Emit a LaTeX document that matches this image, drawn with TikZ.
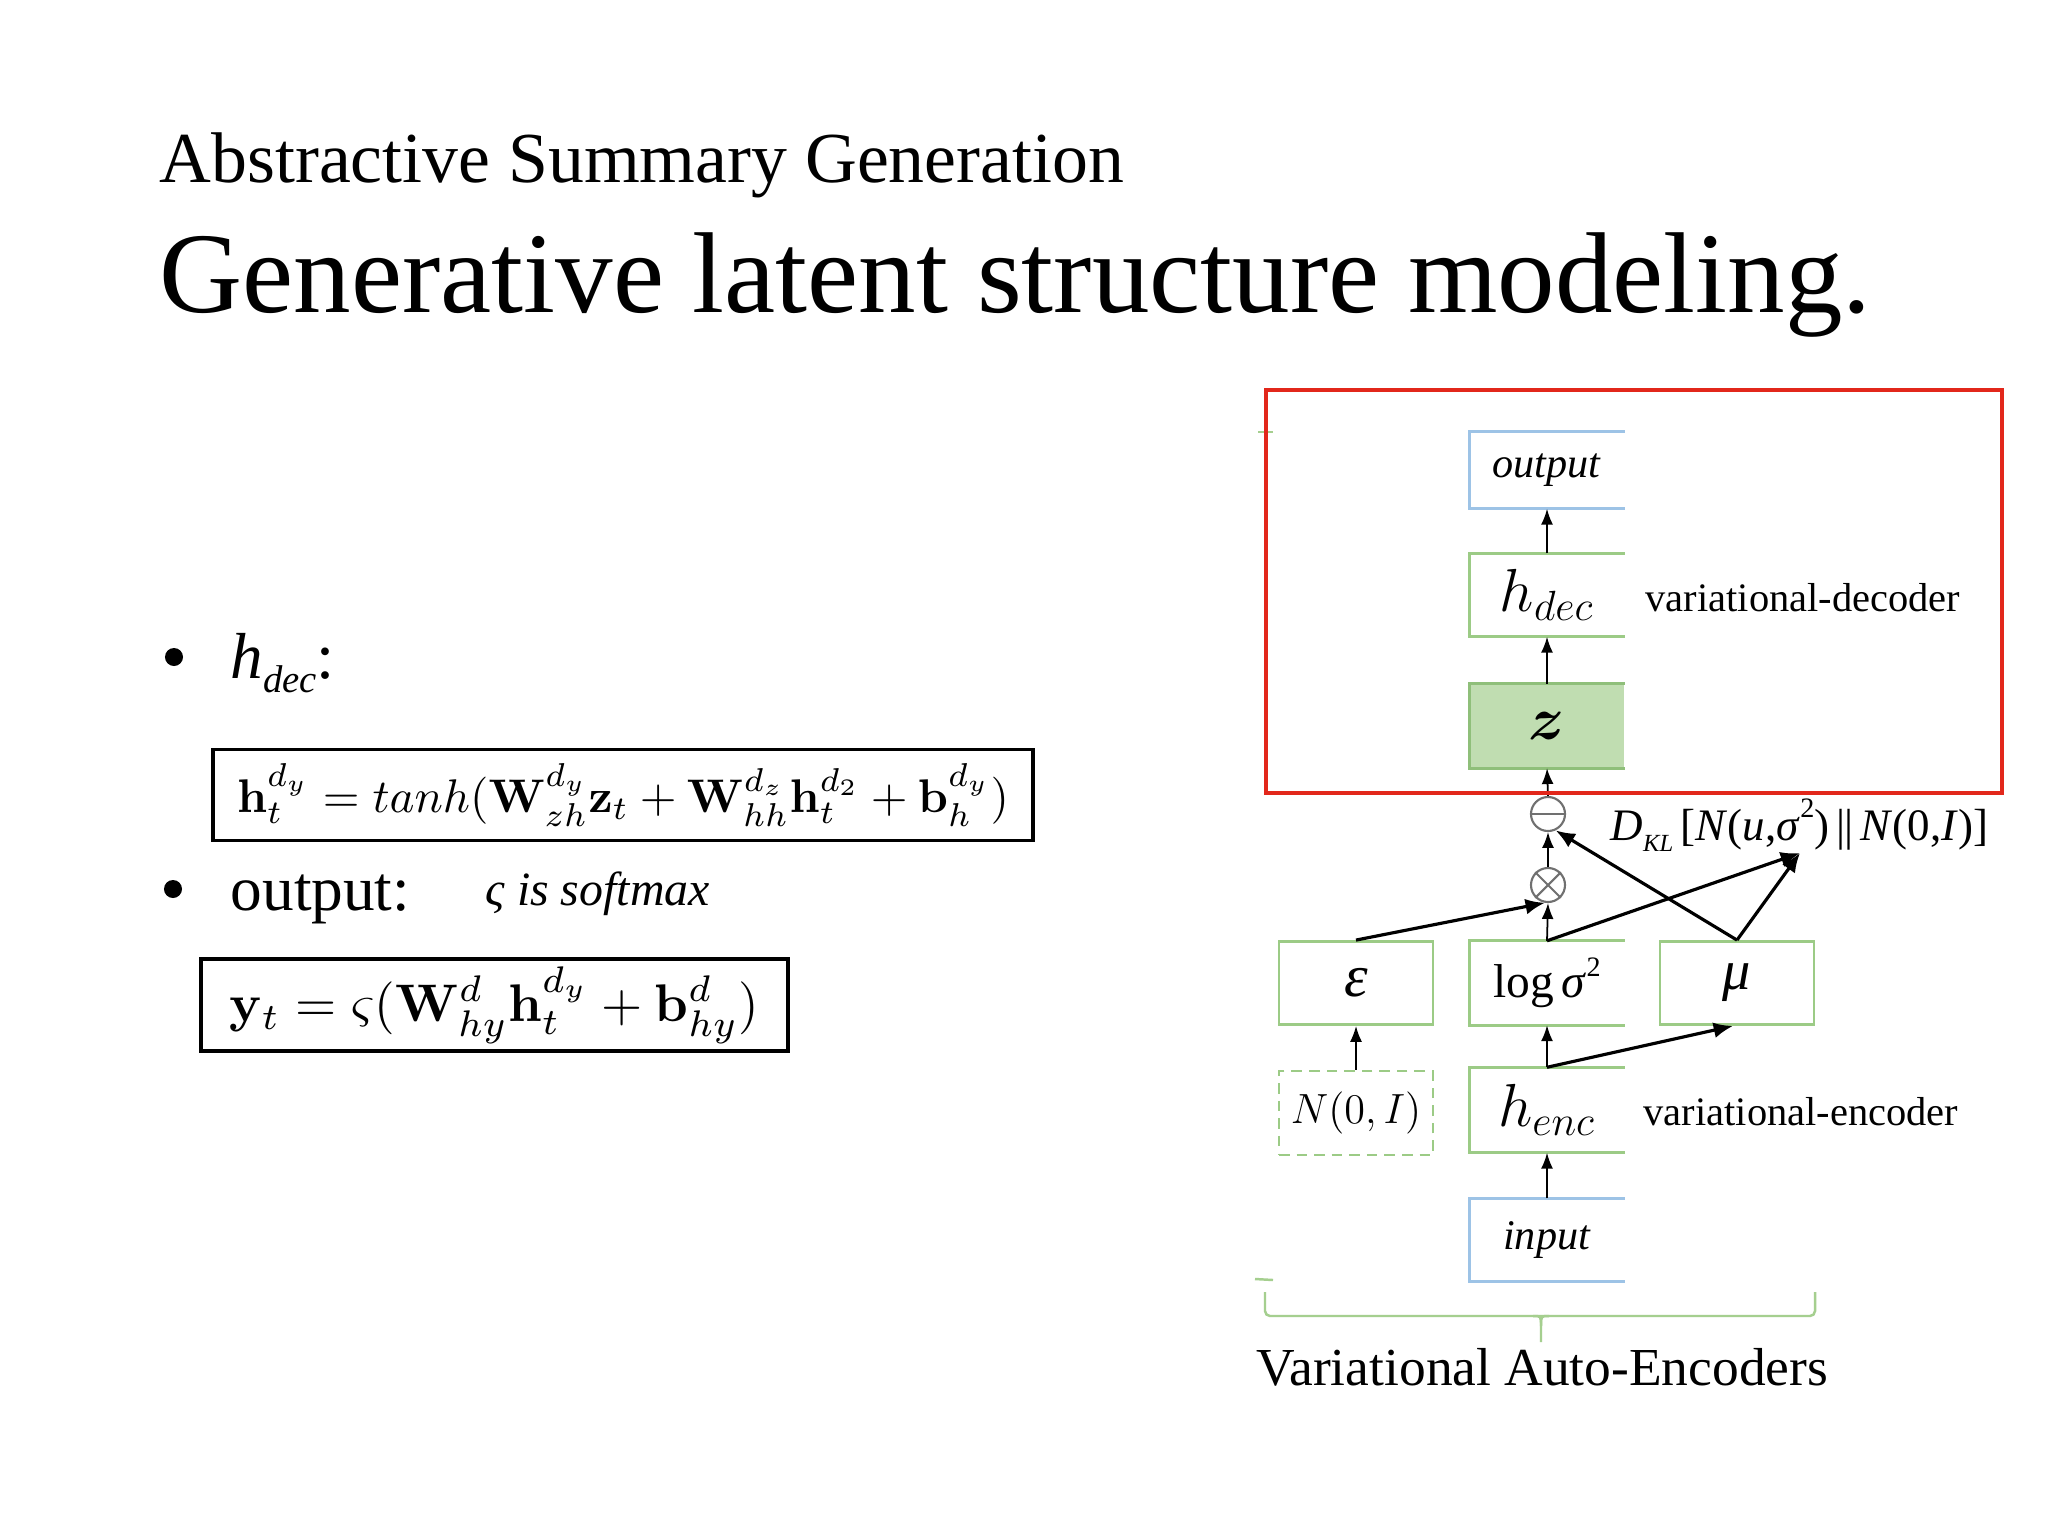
\documentclass[tikz,border=0pt]{standalone}
\usepackage[no-math]{fontspec}
\setmainfont{Liberation Serif}
\usepackage{graphicx}
\usetikzlibrary{arrows.meta}
\definecolor{vgreen}{HTML}{9CCB86}
\definecolor{zfill}{HTML}{C0DDB1}
\definecolor{zline}{HTML}{8FBF7A}
\definecolor{vblue}{HTML}{9DC3E6}
\definecolor{vred}{HTML}{E2271B}
\definecolor{opgray}{HTML}{707070}
\definecolor{bracegreen}{HTML}{A5CF8F}
\newcommand{\fs}[1]{\fontsize{#1}{#1}\selectfont}
\newcommand{\opensides}[2]{\draw[#1] (#2.north east) -- (#2.north west) -- (#2.south west) -- (#2.south east);}
\begin{document}
\begin{tikzpicture}[x=0.01cm,y=-0.01cm,
  vbox/.style={minimum width=1.54cm, minimum height=0.83cm, inner sep=0pt},
  gline/.style={draw=vgreen, line width=0.8pt},
  bline/.style={draw=vblue, line width=0.8pt},
  thinarr/.style={-{Latex[length=4.5pt,width=3.4pt]}, line width=0.5pt, black},
  thickarr/.style={-{Latex[length=5.5pt,width=4.5pt]}, line width=0.9pt, black},
  txt/.style={inner sep=0pt, anchor=base west},
  opnode/.style={circle, draw=opgray, line width=0.6pt, minimum size=0.34cm, inner sep=0pt},
  eqbox/.style={draw=black, line width=1pt, inner sep=0pt},
  bul/.style={circle, fill=black, inner sep=0pt, minimum size=0.18cm},
]
\useasboundingbox (0,0) rectangle (2048,1536);
\fill[white] (0,0) rectangle (2048,1536);

% ---- slide text ----
\node[txt] (t1) at (159,182) {\fs{20.4}Abstractive Summary Generation};
\node[txt] (t2) at (159,312) {\fs{32.7}Generative latent structure modeling.};

\node[bul] (b1) at (174,657) {};
\node[txt] (hd) at (230,678) {\fs{18.5}\textit{h}\raisebox{-0.22em}{\fs{11}\textit{dec}}:};

\node[eqbox, minimum width=8.2cm, minimum height=0.91cm] (eq1) at (623,795)
  {\resizebox{219.5pt}{!}{$\mathbf{h}_t^{d_y} = tanh(\mathbf{W}_{zh}^{d_y}\mathbf{z}_t + \mathbf{W}_{hh}^{d_z}\mathbf{h}_t^{d_2} + \mathbf{b}_h^{d_y})$}};

\node[bul] (b2) at (173,889) {};
\node[txt] (op) at (230,910) {\fs{18}output:};
\node[txt] (sm) at (485,905) {\fs{13.6}\textit{ς is softmax}};

\node[eqbox, minimum width=5.87cm, minimum height=0.92cm] (eq2) at (494.5,1005)
  {\resizebox{150.5pt}{!}{$\mathbf{y}_t = \varsigma(\mathbf{W}_{hy}^{d}\mathbf{h}_t^{d_y} + \mathbf{b}_{hy}^{d})$}};

% ---- VAE diagram ----
\node[vbox, minimum height=0.76cm] (out) at (1547,470) {\fs{12}\textit{output}};
\opensides{bline}{out}
\node[vbox, minimum height=0.82cm] (hdec) at (1547,595)
  {\fs{17}$h_{\mbox{\fs{13}$dec$}}$};
\opensides{gline}{hdec}
\node[vbox, fill=zfill, minimum height=0.83cm] (z) at (1547,726) {\fs{16}{\boldmath$z$}};
\opensides{draw=zline, line width=0.8pt}{z}

\node[opnode] (minus) at (1548,814) {};
\draw[opgray, line width=0.7pt] (minus.west) -- (minus.east);
\node[opnode] (times) at (1548,885) {};
\draw[opgray, line width=0.6pt] (times.north west) -- (times.south east);
\draw[opgray, line width=0.6pt] (times.north east) -- (times.south west);

\node[vbox, gline] (eps) at (1356,983) {\fs{17}\textit{ε}};
\node[vbox] (logv) at (1547,983) {\fs{13.5}log\,\textit{σ}\raisebox{0.45em}{\fs{8}2}};
\opensides{gline}{logv}
\node[vbox, gline] (mu) at (1737,983) {\fs{16}\textit{μ}};

\node[vbox, gline, dash pattern=on 3pt off 2pt, minimum height=0.84cm] (nrm) at (1356,1113) {\fs{13}$N(0,I)$};
\node[vbox, minimum height=0.84cm] (henc) at (1547,1110)
  {\fs{17}$h_{\mbox{\fs{13}$enc$}}$};
\opensides{gline}{henc}
\node[vbox, minimum height=0.82cm] (inp) at (1547,1240) {\fs{12}\textit{input}};
\opensides{bline}{inp}

\node[txt] (vdec) at (1645,611) {\fs{11.5}variational-decoder};
\node[txt] (venc) at (1643,1125) {\fs{11.5}variational-encoder};
\node[txt] (kl) at (1610,840) {\fs{12.8}\textit{D}\raisebox{-0.25em}{\fs{7}\textit{KL}}\,[\textit{N}(\textit{u},\textit{σ}\raisebox{0.5em}{\fs{8}2})\,\textbar\kern-0.5pt\textbar\,\textit{N}(0,\textit{I})]};
\coordinate (klpt) at (1800,853);

% arrows
\draw[thinarr] (inp.north) -- (henc.south);
\draw[thinarr] (henc.north) -- (logv.south);
\draw[thickarr] (henc.north) -- ([xshift=-0.04cm]mu.south);
\draw[thinarr] (nrm.north) -- (eps.south);
\draw[thickarr] (eps.north) -- (times.-100);
\draw[thinarr] (logv.north) -- (times.south);
\draw[thickarr] (logv.north) -- (klpt);
\draw[thickarr] (mu.north) -- (klpt);
\draw[thickarr] (mu.north) -- (minus.-65);
\draw[thinarr] (times.north) -- (minus.south);
\draw[thinarr] (minus.north) -- (z.south);
\draw[thinarr] (z.north) -- (hdec.south);
\draw[thinarr] (hdec.north) -- (out.south);

% brace and caption
\draw[bracegreen, line width=0.7pt, rounded corners=0.05cm] (1265,1292) -- (1265,1316) -- (1815,1316) -- (1815,1292);
\coordinate (bl) at (1533,1316);
\coordinate (br) at (1549,1316);
\coordinate (bm) at (1541,1342);
\draw[bracegreen, line width=0.7pt] (bl) .. controls (1541,1316) .. (1541,1326) -- (bm);
\draw[bracegreen, line width=0.7pt] (br) .. controls (1541,1316) .. (1541,1326);
\draw[bracegreen, line width=0.7pt] (1255,1279) -- (1273,1280);
\draw[bracegreen, line width=0.7pt] (1258,432) -- (1273,432);
\node[txt] (vae) at (1256,1385) {\fs{15.2}Variational Auto-Encoders};

% highlight
\draw[vred, line width=1.2pt] (1266,390) rectangle (2002,793);
\end{tikzpicture}
\end{document}
